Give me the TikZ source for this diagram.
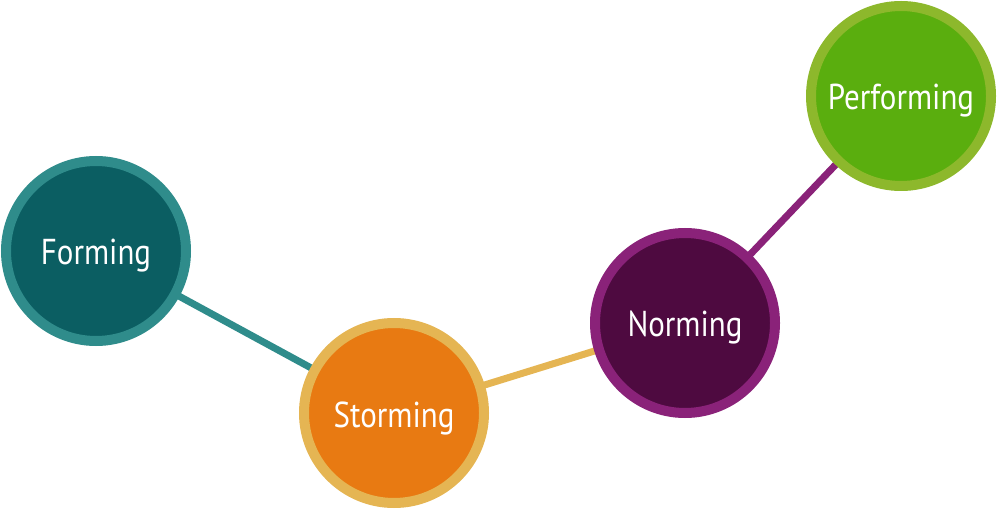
\documentclass[tikz,border=0pt]{standalone}
\usepackage{fontspec}
\setmainfont{PT Sans}
\definecolor{fFill}{HTML}{0B5E62}
\definecolor{fRing}{HTML}{2F8C8B}
\definecolor{sFill}{HTML}{E87A12}
\definecolor{sRing}{HTML}{E5B553}
\definecolor{nFill}{HTML}{4E0A40}
\definecolor{nRing}{HTML}{8A2279}
\definecolor{pFill}{HTML}{5AAE0E}
\definecolor{pRing}{HTML}{8DB82C}
\begin{document}
\begin{tikzpicture}[x=1pt,y=-1pt,
  stage/.style={circle,minimum size=180pt,inner sep=0pt,line width=10pt},
  stagetext/.style={text=white,inner sep=0pt,xscale=0.86,font=\fontsize{36}{40}\selectfont},
  link/.style={line width=7pt}]
\useasboundingbox (0,0) rectangle (1000,510);
\coordinate (cf) at (96,251);
\coordinate (cs) at (394,413);
\coordinate (cn) at (685,323);
\coordinate (cp) at (901,96);
\draw[link,draw=fRing] (cf) -- (cs);
\draw[link,draw=sRing] (cs) -- (cn);
\draw[link,draw=nRing] (cn) -- (cp);
\node[stage,draw=fRing,fill=fFill] (f) at (cf) {};
\node[stage,draw=sRing,fill=sFill] (s) at (cs) {};
\node[stage,draw=nRing,fill=nFill] (n) at (cn) {};
\node[stage,draw=pRing,fill=pFill] (p) at (cp) {};
\node[stagetext] (ft) at ([yshift=-5pt]f.center) {Forming};
\node[stagetext] (st) at ([yshift=-5pt]s.center) {Storming};
\node[stagetext] (nt) at ([yshift=-5pt]n.center) {Norming};
\node[stagetext] (pt) at ([yshift=-5pt]p.center) {Performing};
\end{tikzpicture}
\end{document}
